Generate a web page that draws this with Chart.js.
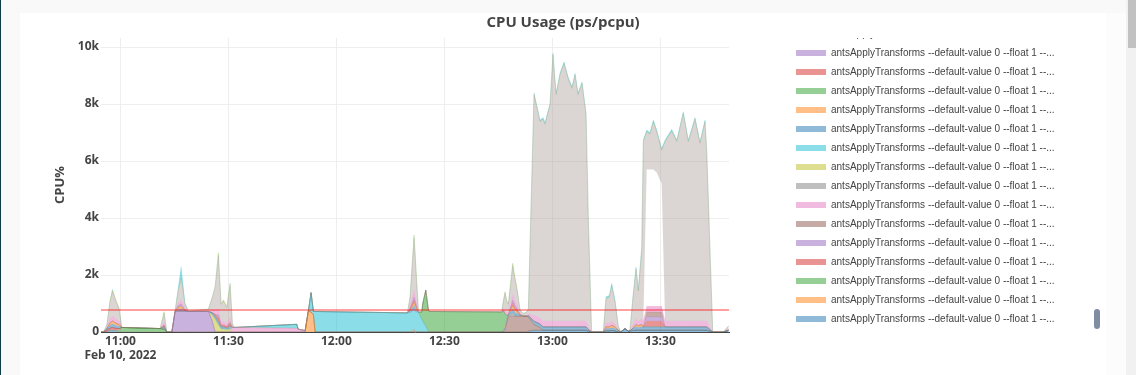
<!DOCTYPE html>
<html>
<head>
<meta charset="utf-8">
<script src="https://cdn.jsdelivr.net/npm/chart.js@4.4.1/dist/chart.umd.min.js"></script>
<style>
  html, body { margin: 0; padding: 0; }
  body { width: 1136px; height: 375px; overflow: hidden; background: #f9f9f9; position: relative; font-family: "Open Sans", sans-serif; }
  #edge { position: absolute; left: 0; top: 0; width: 1px; height: 375px; background: #0f3d47; }
  #card { position: absolute; left: 20px; top: 13px; width: 1086px; height: 362px; background: #fff; }
  #side { position: absolute; left: 1106px; top: 13px; width: 20px; height: 362px; background: #fcfcfc; }
  #track { position: absolute; left: 1126px; top: 0; width: 10px; height: 375px; background: #f1f1f1; }
  #thumb { position: absolute; left: 1128px; top: 0; width: 8px; height: 48px; background: #c1c1c1; }
  #title { position: absolute; left: 20px; width: 1086px; top: 11px; line-height: 20px; text-align: center; font-weight: bold; font-size: 15px; color: #444; }
  #legend { position: absolute; left: 796px; top: 37.5px; width: 300px; height: 292.5px; overflow: hidden; }
  #legend-list { position: absolute; left: 0; bottom: 2px; }
  .item { height: 19px; display: flex; align-items: center; font-family: "Liberation Sans", Arial, sans-serif; font-size: 10px; color: #444; white-space: nowrap; }
  .swatch { width: 30px; height: 6px; margin-right: 5px; margin-top: 1px; }
  #legend-bar { position: absolute; left: 1094px; top: 309px; width: 6px; height: 20px; background: #808ba4; border-radius: 3px; }
</style>
</head>
<body>
<div id="edge"></div>
<div id="card"><canvas id="graph" width="1086" height="362"></canvas></div>
<div id="side"></div>
<div id="track"></div>
<div id="thumb"></div>
<div id="title">CPU Usage (ps/pcpu)</div>
<div id="legend"><div id="legend-list"></div></div>
<div id="legend-bar"></div>
<script>
// sample timestamps (Feb 10, 2022)
const times = [
  '10:54:36','10:55:18','10:56:13','10:57:08','10:57:47','10:58:43','10:59:38','11:00:23','11:11:02','11:12:08',
  '11:12:53','11:14:17','11:15:11','11:16:02','11:16:52','11:17:58','11:18:53','11:24:26','11:25:28','11:26:19',
  '11:27:13','11:27:58','11:28:37','11:29:34','11:30:28','11:31:07','11:31:40','11:49:00','11:49:22','11:51:19',
  '11:52:13','11:52:58','11:53:37','11:54:05','12:19:43','12:20:28','12:21:35','12:22:08','12:22:47','12:23:43',
  '12:24:00','12:24:50','12:25:34','12:25:50','12:45:56','12:46:23','12:46:52','12:47:20','12:47:47','12:49:00',
  '12:49:38','12:50:07','12:51:02','12:51:56','12:52:53','12:53:20','12:54:55','12:56:35','12:57:25','12:57:58',
  '12:59:22','13:00:11','13:01:02','13:02:08','13:03:15','13:04:22','13:05:28','13:06:19','13:07:08','13:08:15',
  '13:09:22','13:10:00','13:10:54','13:14:10','13:14:55','13:15:50','13:16:30','13:17:25','13:18:20','13:19:00',
  '13:20:11','13:21:07','13:21:35','13:22:22','13:23:15','13:23:53','13:24:50','13:25:17','13:26:13','13:27:08',
  '13:28:04','13:29:00','13:30:23','13:31:19','13:33:10','13:34:34','13:36:23','13:37:47','13:39:38','13:41:02',
  '13:42:25','13:42:53','13:44:34','13:47:30','13:49:00'
];
const xRange = ['10:54:36', '13:49:05'];
const xTickLabels = ['11:00', '11:30', '12:00', '12:30', '13:00', '13:30'];
const dateLabel = 'Feb 10, 2022';
const yMax = 10316;
const yTickValues = [0, 2000, 4000, 6000, 8000, 10000];
const yTickLabels = ['0', '2k', '4k', '6k', '8k', '10k'];
const limitValue = 770;
const seriesLabel = 'antsApplyTransforms --default-value 0 --float 1 --...';

// CPU% per process, [time, value]; missing times are 0
const s00 = [['10:57:08',60],['10:57:47',60],['10:58:43',50],['12:53:20',30],
  ['12:54:55',60],['12:56:35',60],['12:57:25',60],['12:57:58',60],['12:59:22',60],['13:00:11',60],['13:01:02',60],['13:02:08',60],
  ['13:03:15',60],['13:04:22',60],['13:05:28',60],['13:06:19',60],['13:07:08',60],['13:08:15',60],['13:09:22',60],['13:10:00',30],
  ['13:14:55',40],['13:15:50',40],['13:16:30',50],['13:17:25',40],['13:20:11',120],['13:21:07',30],['13:21:35',40],['13:22:22',50],
  ['13:23:15',60],['13:23:53',60],['13:24:50',60],['13:25:17',60],['13:26:13',60],['13:27:08',60],['13:28:04',60],['13:29:00',60],
  ['13:30:23',60],['13:31:19',60],['13:33:10',60],['13:34:34',60],['13:36:23',60],['13:37:47',60],['13:39:38',60],['13:41:02',60],
  ['13:42:25',60],['13:42:53',60],['13:49:00',60]];
const s01 = [['11:52:13',740],['11:52:58',700],['11:53:37',600]];
const s02 = [['10:59:38',60],['11:00:23',160],['11:11:02',120],['11:12:08',100]];
const s03 = [['10:56:13',50],['10:57:08',80],['10:57:47',100],['10:58:43',80],['10:59:38',60]];
const s04 = [['11:15:11',720],['11:16:02',720],['11:16:52',720],['11:17:58',720],['11:18:53',720],['11:24:26',720],['11:25:28',400]];
const s05 = [['12:46:52',100],['12:47:20',350],['12:47:47',550],['12:49:00',560],['12:49:38',560],['12:50:07',560],['12:51:02',560],
  ['12:51:56',560],['12:52:53',560],['12:53:20',500],['12:54:55',200],['12:56:35',100]];
const s06 = [['11:31:07',160],['11:31:40',160],['11:49:00',130],['11:49:22',100],['11:51:19',50]];
const s07 = [['12:21:35',100],['12:49:00',100]];
const s08 = [['11:25:28',200],['11:26:19',450],['11:27:13',250],['11:27:58',100],['11:28:37',100],['11:29:34',80],['11:30:28',100]];
const s09 = [['11:49:00',140],['11:52:58',680],['11:53:37',120],['11:54:05',720],['12:19:43',670],['12:20:28',670],['12:21:35',670],
  ['12:22:08',680],['12:22:47',690],['12:23:43',450],['12:24:00',380],['12:24:50',200],['12:25:34',30]];
const s10 = [['10:56:13',60],['10:57:08',100],['10:57:47',120],['10:58:43',100],['10:59:38',80],['11:12:08',80],
  ['11:16:02',80],['11:16:52',100],['11:17:58',40],['11:25:28',80],['11:26:19',100],['11:27:13',120],['11:27:58',80],['11:28:37',80],
  ['11:29:34',60],['11:30:28',100],['12:20:28',80],['12:21:35',150],['12:22:08',100],['12:46:23',60],['12:46:52',80],['12:47:20',80],
  ['12:47:47',60],['12:49:00',150],['12:49:38',120],['12:50:07',100],['12:51:02',40],['12:53:20',40],
  ['12:54:55',120],['12:56:35',120],['12:57:25',120],['12:57:58',120],['12:59:22',120],['13:00:11',120],['13:01:02',120],['13:02:08',120],
  ['13:03:15',120],['13:04:22',120],['13:05:28',120],['13:06:19',120],['13:07:08',120],['13:08:15',120],['13:09:22',120],['13:10:00',60],
  ['13:14:55',80],['13:15:50',80],['13:16:30',100],['13:17:25',80],['13:18:20',60],['13:22:22',80],['13:23:15',120],['13:23:53',100],
  ['13:24:50',120],['13:25:17',120],['13:26:13',120],['13:27:08',120],['13:28:04',120],['13:29:00',120],['13:30:23',120],['13:31:19',120],
  ['13:33:10',120],['13:34:34',120],['13:36:23',120],['13:37:47',120],['13:39:38',120],['13:41:02',120],['13:42:25',120],['13:42:53',120]];
const s11 = [['10:57:08',80],['10:57:47',100],['10:58:43',80],['10:59:38',60],['11:16:02',60],['11:16:52',80],['12:21:35',100],
  ['12:22:08',60],['12:46:52',60],['12:49:00',100],['12:49:38',80],['12:50:07',60],['13:14:55',60],['13:15:50',60],['13:16:30',80],
  ['13:17:25',60],['13:23:15',80],['13:23:53',60],['13:24:50',80]];
const s12 = [['12:23:43',250],['12:24:00',620],['12:24:50',1270],['12:25:34',740],['12:25:50',720],['12:45:56',700],['12:46:23',690],
  ['12:46:52',400],['12:47:20',150]];
const s13 = [['11:12:08',60],['11:26:19',60],['11:27:13',150],['11:27:58',60],['11:28:37',60],['11:29:34',50],['11:30:28',80],
  ['12:20:28',60],['12:21:35',100],['12:22:08',60],['12:49:00',100],['12:49:38',80],['12:50:07',60],
  ['13:26:13',200],['13:27:08',200],['13:28:04',200],['13:29:00',200],['13:30:23',200]];
const s14 = [['11:16:02',60],['11:16:52',80],['11:27:13',80],['12:21:35',100],['12:22:08',60],['12:49:00',100],['12:49:38',80],
  ['12:50:07',60],['13:26:13',150],['13:27:08',150],['13:28:04',150],['13:29:00',150],['13:30:23',150]];
const s15 = [['11:30:28',80],['13:26:13',170],['13:27:08',170],['13:28:04',170],['13:29:00',170],['13:30:23',170]];
const s16 = [['10:56:13',60],['10:57:08',150],['10:57:47',180],['10:58:43',150],['10:59:38',120],['11:12:08',100],
  ['11:16:02',100],['11:16:52',150],['11:17:58',60],['11:25:28',100],['11:26:19',150],['11:27:13',200],['11:27:58',100],['11:28:37',120],
  ['11:29:34',100],['11:30:28',150],['12:20:28',100],['12:21:35',250],['12:22:08',150],['12:46:23',80],['12:46:52',120],['12:47:20',100],
  ['12:47:47',80],['12:49:00',200],['12:49:38',160],['12:50:07',140],['12:51:02',60],['12:53:20',60],
  ['12:54:55',200],['12:56:35',200],['12:57:25',200],['12:57:58',200],['12:59:22',200],['13:00:11',200],['13:01:02',200],['13:02:08',200],
  ['13:03:15',200],['13:04:22',200],['13:05:28',200],['13:06:19',200],['13:07:08',200],['13:08:15',200],['13:09:22',200],['13:10:00',100],
  ['13:14:55',120],['13:15:50',120],['13:16:30',150],['13:17:25',100],['13:22:22',120],['13:23:15',200],['13:23:53',150],['13:24:50',200],
  ['13:25:17',200],['13:26:13',200],['13:27:08',200],['13:28:04',200],['13:29:00',200],['13:30:23',200],['13:31:19',200],['13:33:10',200],
  ['13:34:34',200],['13:36:23',200],['13:37:47',200],['13:39:38',200],['13:41:02',200],['13:42:25',200],['13:42:53',200],['13:49:00',60]];
// space left empty between the stacked layers around 13:27
const gap = [['13:26:13',4800],['13:27:08',4800],['13:28:04',4800],['13:29:00',4700],['13:30:23',4300]];
const s17 = [['10:56:13',80],['10:57:08',600],['10:57:47',850],['10:58:43',620],['10:59:38',420],['11:12:08',320],
  ['11:15:11',20],['11:16:02',430],['11:16:52',760],['11:17:58',140],['11:18:53',20],['11:24:26',80],['11:25:28',420],['11:26:19',830],
  ['11:27:13',1880],['11:27:58',620],['11:28:37',720],['11:29:34',560],['11:30:28',1110],['11:31:07',140],
  ['12:20:28',280],['12:21:35',1830],['12:22:08',1000],['12:22:47',80],['12:45:56',20],['12:46:23',230],['12:46:52',600],['12:47:20',380],
  ['12:47:47',280],['12:49:00',1000],['12:49:38',740],['12:50:07',540],['12:51:02',110],['12:51:56',90],['12:52:53',140],['12:53:20',170],
  ['12:54:55',7750],['12:56:35',6900],['12:57:25',7090],['12:57:58',6910],['12:59:22',7590],['13:00:11',9350],['13:01:02',7950],
  ['13:02:08',8650],['13:03:15',9040],['13:04:22',8520],['13:05:28',8170],['13:06:19',8640],['13:07:08',7950],['13:08:15',8340],
  ['13:09:22',7240],['13:10:00',3780],['13:14:55',880],['13:15:50',920],['13:16:30',1250],['13:17:25',790],['13:18:20',140],
  ['13:21:35',60],['13:22:22',900],['13:23:15',1750],['13:23:53',1070],['13:24:50',2450],['13:25:17',6300],['13:26:13',1330],
  ['13:27:08',1240],['13:28:04',1680],['13:29:00',1430],['13:30:23',1180],['13:31:19',6300],['13:33:10',6670],['13:34:34',6300],
  ['13:36:23',7290],['13:37:47',6300],['13:39:38',7090],['13:41:02',6240],['13:42:25',7000],['13:42:53',5960],['13:49:00',100]];
const s18 = [['10:57:08',50],['10:57:47',50],['10:58:43',40],['10:59:38',30],['11:12:08',50],['11:27:13',100],['11:27:58',40],
  ['11:28:37',40],['11:29:34',40],['11:30:28',90],['12:20:28',50],['12:21:35',100],['12:22:08',70],['12:46:23',40],['12:46:52',50],
  ['12:47:20',40],['12:47:47',30],['12:49:00',100],['12:49:38',80],['12:50:07',70]];
const s19 = [['10:57:47',40],['11:16:02',80],['11:16:52',400],['11:17:58',40],
  ['12:54:55',60],['12:56:35',60],['12:57:25',60],['12:57:58',60],['12:59:22',60],['13:00:11',60],['13:01:02',60],['13:02:08',60],
  ['13:03:15',60],['13:04:22',60],['13:05:28',60],['13:06:19',60],['13:07:08',60],['13:08:15',60],['13:09:22',60],['13:10:00',30],
  ['13:14:55',60],['13:15:50',60],['13:16:30',80],['13:17:25',50],['13:22:22',50],['13:23:15',80],['13:23:53',60],['13:24:50',80],
  ['13:25:17',60],['13:26:13',60],['13:27:08',60],['13:28:04',60],['13:29:00',60],['13:30:23',60],['13:31:19',60],['13:33:10',60],
  ['13:34:34',60],['13:36:23',60],['13:37:47',60],['13:39:38',60],['13:41:02',60],['13:42:25',60],['13:42:53',60]];

const series = [s00, s01, s02, s03, s04, s05, s06, s07, s08, s09, s10, s11, s12, s13, s14, s15, s16, s17, s18, s19];
const palette = ['31,119,180', '255,127,14', '44,160,44', '214,39,40', '148,103,189', '140,86,75', '227,119,194', '127,127,127', '188,189,34', '23,190,207'];
const massIndex = 17;

function toMin(t) {
  const p = t.split(':').map(Number);
  return p[0] * 60 + p[1] + (p[2] || 0) / 60;
}

function toPoints(pairs) {
  const m = new Map(pairs);
  return times.map(t => ({ x: toMin(t), y: m.get(t) || 0 }));
}

// stacked datasets, bottom first
const datasets = [];
series.forEach((s, i) => {
  if (i === massIndex) {
    datasets.push({ label: 'gap', data: toPoints(gap), fill: false, borderWidth: 0, backgroundColor: 'rgba(0,0,0,0)', borderColor: 'rgba(0,0,0,0)', stack: 'cpu' });
  }
  const c = palette[i % 10];
  datasets.push({
    label: seriesLabel,
    data: toPoints(s),
    stack: 'cpu',
    fill: i === 0 ? 'origin' : '-1',
    backgroundColor: i === massIndex ? 'rgba(170,158,152,0.42)' : 'rgba(' + c + ',0.5)',
    borderColor: 'rgba(' + c + ',0.3)',
    borderWidth: 0.5
  });
});
datasets.push({
  label: 'limit',
  data: [{ x: toMin(xRange[0]), y: limitValue }, { x: toMin(xRange[1]), y: limitValue }],
  stack: 'limit',
  fill: false,
  borderColor: 'rgba(255,0,0,0.5)',
  borderWidth: 1.5,
  order: -1
});

const tickFont = { family: 'Open Sans', weight: 'bold', size: 12, lineHeight: 1.15 };

let graph = document.getElementById('graph').getContext('2d');
new Chart(graph, {
  type: 'line',
  data: { datasets: datasets },
  options: {
    responsive: false,
    animation: false,
    devicePixelRatio: 1,
    layout: { padding: { left: 32, right: 377, top: 25, bottom: 0 } },
    plugins: { legend: { display: false }, tooltip: { enabled: false } },
    elements: { point: { radius: 0 }, line: { tension: 0 } },
    scales: {
      x: {
        type: 'linear',
        min: toMin(xRange[0]),
        max: toMin(xRange[1]),
        afterBuildTicks: s => { s.ticks = xTickLabels.map(t => ({ value: toMin(t) })); },
        afterFit: s => { s.height = 43; },
        grid: { color: '#eee', drawTicks: false },
        border: { color: '#444', width: 1 },
        ticks: {
          padding: 3, color: '#444', font: tickFont, maxRotation: 0, autoSkip: false,
          callback: (v, i) => i === 0 ? [xTickLabels[i], dateLabel] : xTickLabels[i]
        }
      },
      y: {
        stacked: true,
        min: 0,
        max: yMax,
        afterBuildTicks: s => { s.ticks = yTickValues.map(v => ({ value: v })); },
        afterFit: s => { s.width = 49; },
        grid: { color: c => c.tick && c.tick.value === 0 ? 'rgba(0,0,0,0)' : '#eee', drawTicks: false },
        border: { display: false },
        ticks: {
          padding: 2, color: '#444', font: tickFont,
          callback: (v, i) => yTickLabels[i]
        },
        title: { display: true, text: 'CPU%', color: '#444', font: { family: 'Open Sans', weight: 'bold', size: 13 }, padding: { top: 0, bottom: 0 } }
      }
    }
  }
});

// legend, scrolled to its last entries
const list = document.getElementById('legend-list');
for (let i = series.length - 1; i >= 0; i--) {
  const row = document.createElement('div');
  row.className = 'item';
  const sw = document.createElement('div');
  sw.className = 'swatch';
  sw.style.background = 'rgba(' + palette[i % 10] + ',0.5)';
  row.appendChild(sw);
  row.appendChild(document.createTextNode(seriesLabel));
  list.appendChild(row);
}
</script>
</body>
</html>
